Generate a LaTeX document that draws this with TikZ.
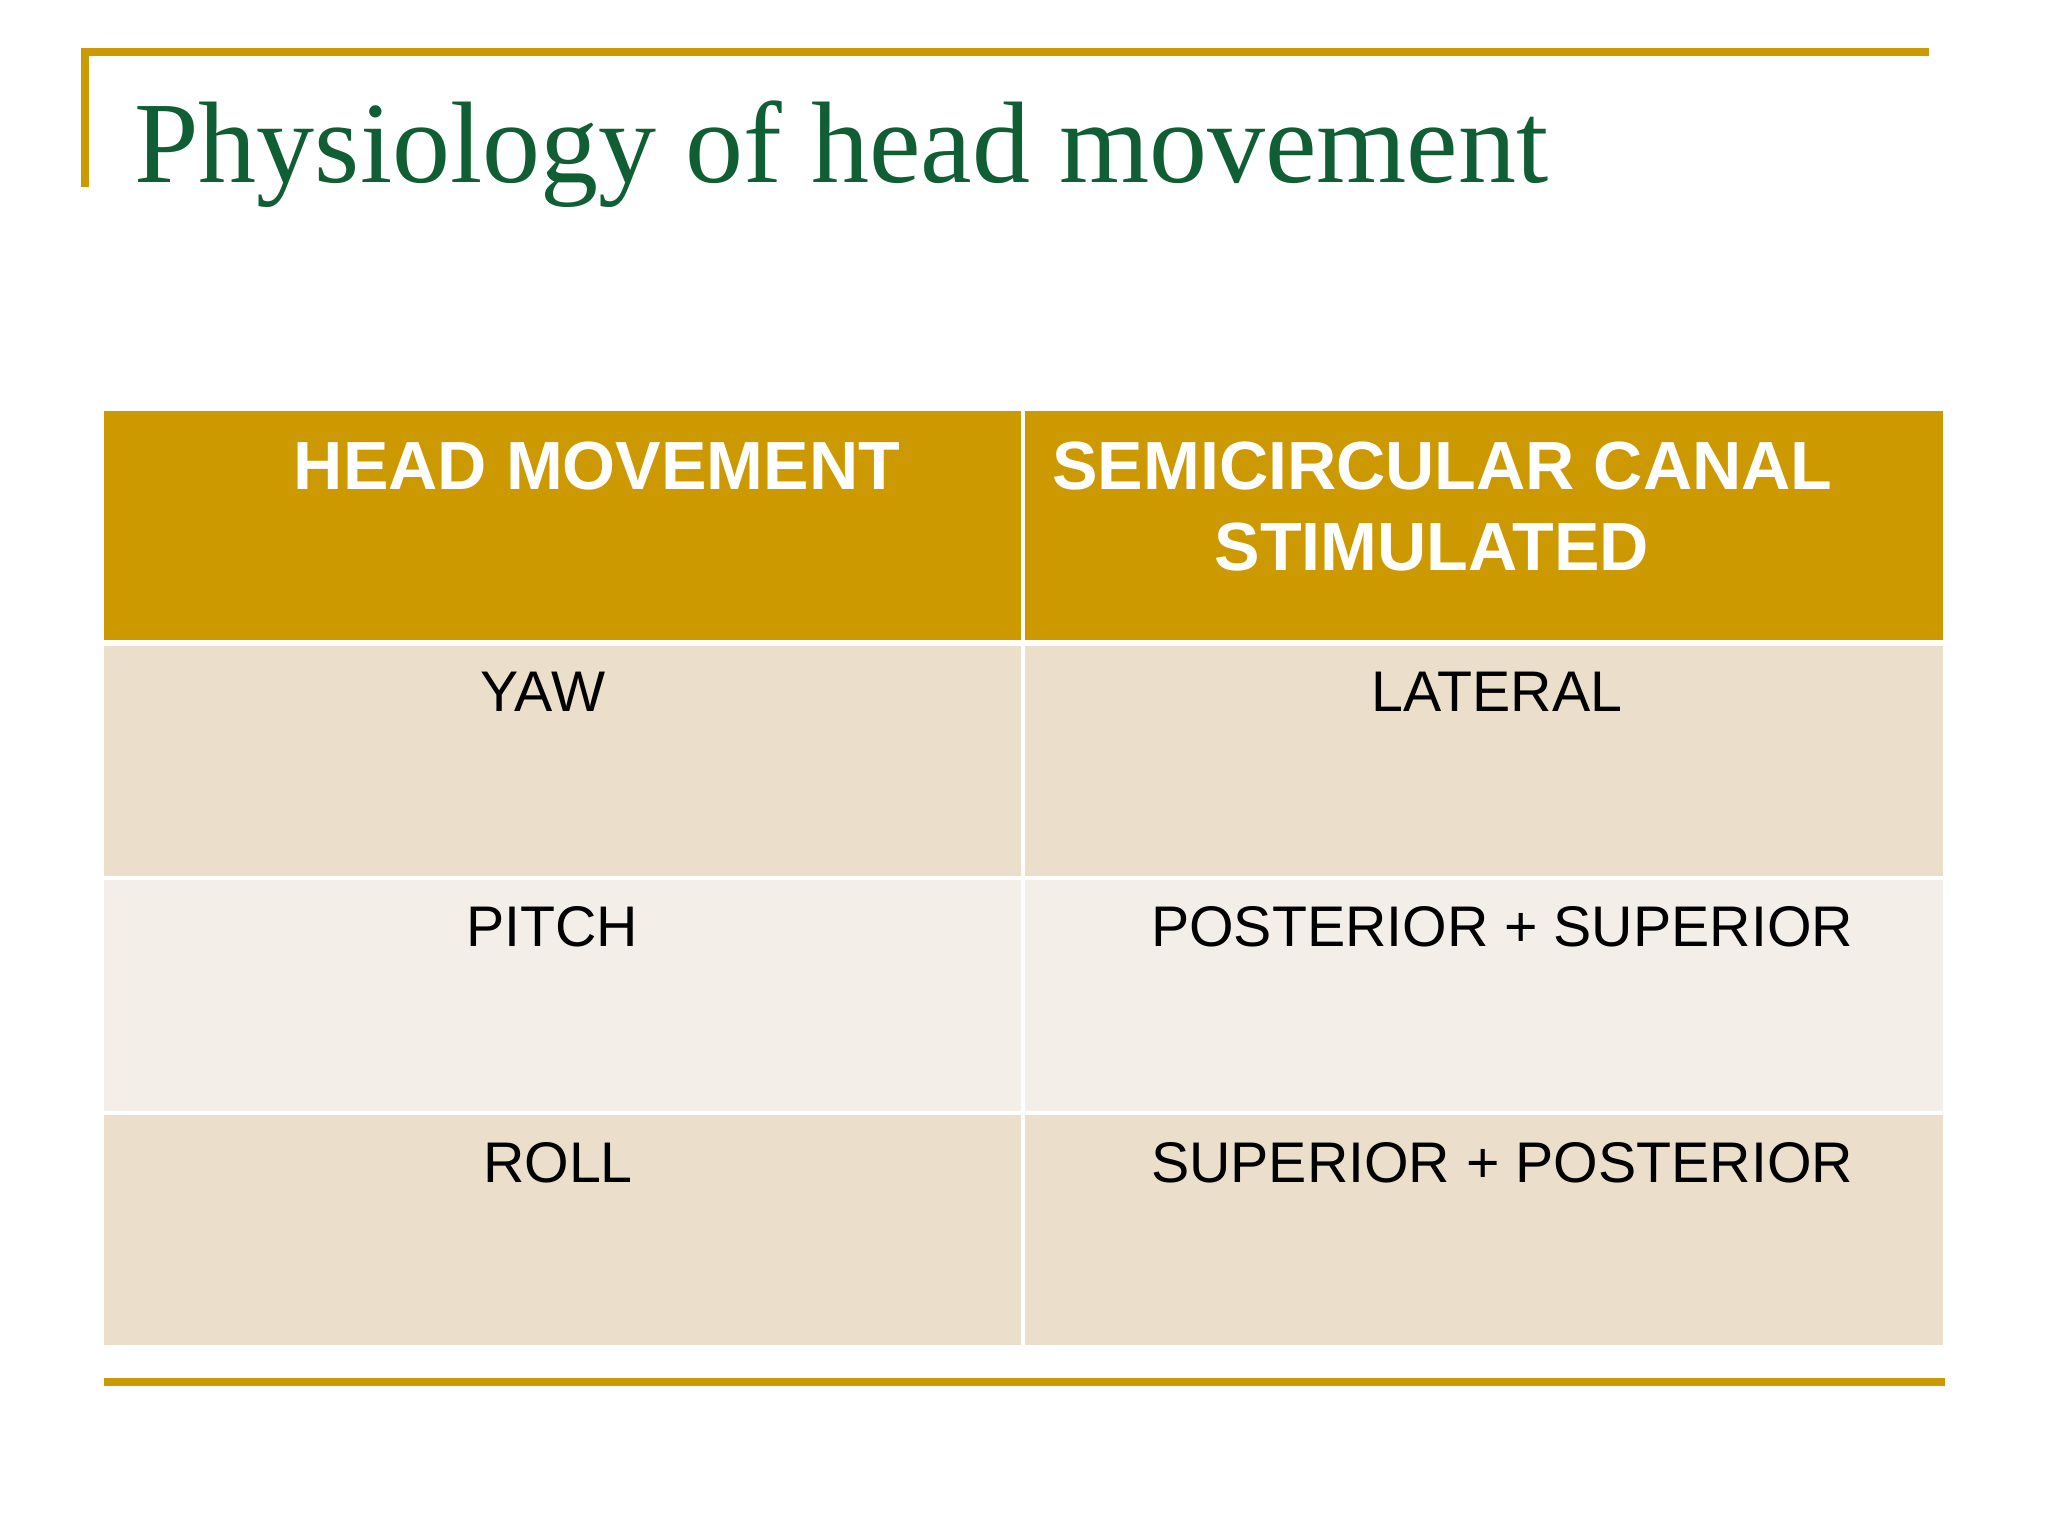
\documentclass[tikz,border=0pt]{standalone}
\usepackage{fontspec}
\setmainfont{Liberation Sans}
\newfontfamily\titlefont{Liberation Serif}
\usetikzlibrary{positioning,calc}
\definecolor{gold}{RGB}{204,153,0}
\definecolor{rowdark}{RGB}{235,223,204}
\definecolor{rowlight}{RGB}{244,238,232}
\definecolor{titlegreen}{RGB}{16,94,52}
\begin{document}
\begin{tikzpicture}[x=1cm,y=-1cm,
    rule/.style={gold, line width=2.2pt},
    head/.style={anchor=base, text=white, font=\fontsize{19.4}{23}\selectfont\bfseries},
    cell/.style={anchor=base, text=black, font=\fontsize{16.3}{20}\selectfont},
    sep/.style={white, line width=1pt}
]
\useasboundingbox[fill=white] (0,0) rectangle (20.48,15.36);

% Frame lines
\draw[rule] (0.85,1.87) -- (0.85,0.52) -- (19.29,0.52);
\draw[rule] (1.04,13.82) -- (19.45,13.82);

\node[anchor=base west, text=titlegreen, font=\titlefont\fontsize{33}{38}\selectfont] (title) at (1.22,1.83) {Physiology of head movement};

% Table rows
\fill[gold] (1.04,4.11) rectangle (19.43,6.40);
\fill[rowdark] (1.04,6.46) rectangle (19.43,8.78);
\fill[rowlight] (1.04,8.78) rectangle (19.43,11.13);
\fill[rowdark] (1.04,11.13) rectangle (19.43,13.45);
\draw[sep] (10.23,4.11) -- (10.23,13.45);
\draw[sep] (1.04,8.78) -- (19.43,8.78);
\draw[sep] (1.04,11.13) -- (19.43,11.13);

% Header
\node[head] (h1) at (5.97,4.90) {HEAD MOVEMENT};
\node[head, anchor=base west] (h2) at (10.40,4.90) {SEMICIRCULAR CANAL};
\node[head] (h3) at (14.32,5.71) {STIMULATED};

% Cells
\node[cell] (yaw) at (5.43,7.12) {YAW};
\node[cell] (lat) at (14.97,7.12) {LATERAL};
\node[cell] (pitch) at (5.52,9.47) {PITCH};
\node[cell] (ps) at (15.02,9.47) {POSTERIOR + SUPERIOR};
\node[cell] (roll) at (5.58,11.82) {ROLL};
\node[cell] (sp) at (15.02,11.82) {SUPERIOR + POSTERIOR};
\end{tikzpicture}
\end{document}
